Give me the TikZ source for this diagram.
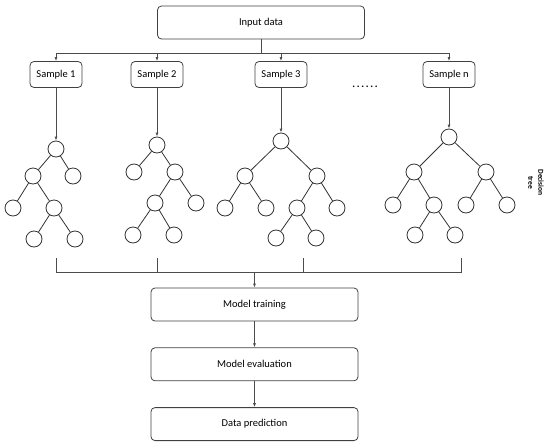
\documentclass[tikz,border=0pt]{standalone}
\usepackage{fontspec}
\setmainfont{Carlito}
\usetikzlibrary{arrows.meta,positioning}
\tikzset{%
	flowbox/.style   = {draw=black!75, rectangle, rounded corners=4pt, line width=0.8pt, minimum width=207pt, minimum height=33pt, text centered, font=\fontsize{10.5}{12}\selectfont},
	samplebox/.style = {draw=black!75, rectangle, rounded corners=4pt, line width=0.8pt, minimum width=52pt, minimum height=26pt, inner sep=1pt, text centered, font=\fontsize{10.5}{12}\selectfont},
	leaf/.style      = {draw=black!80, circle, minimum size=16pt, inner sep=0pt, line width=0.8pt},
	branch/.style    = {draw=black!80, line width=0.8pt},
	link/.style      = {draw=black!70, line width=0.8pt},
	arrow/.style     = {link, -{Latex[length=4pt,width=3pt]}},
}

\begin{document}
\begin{tikzpicture}[x=1pt,y=-1pt]
	\useasboundingbox (0,0) rectangle (550,448);
	
	% boxes
	\node[flowbox] (input) at (261,22.5) {Input data};
	\node[samplebox] (s1) at (56,74.5) {Sample 1};
	\node[samplebox] (s2) at (157,74.5) {Sample 2};
	\node[samplebox] (s3) at (281,74.5) {Sample 3};
	\node[samplebox] (s4) at (449,74.5) {Sample n};
	\node[font=\bfseries\fontsize{10.5}{12}\selectfont\addfontfeature{LetterSpace=16}] (dots) at (365,87) {......};
	\node[flowbox] (train) at (254.5,304.5) {Model training};
	\node[flowbox, below=26pt of train] (eval) {Model evaluation};
	\node[flowbox, below=26pt of eval] (pred) {Data prediction};
	\node[rotate=-90, align=center, font=\bfseries\fontsize{7.5}{10}\selectfont] (label) at (536,182.5) {Decision\\tree};
	
	% trees
	\foreach \n/\x/\y in {a/56/149, b/33/176, c/73/176, d/13/208, e/54/208, f/34/239, g/75/239} \node[leaf] (t1\n) at (\x,\y) {};
	\foreach \p/\c in {a/b, a/c, b/d, b/e, e/f, e/g} \draw[branch] (t1\p) -- (t1\c);
	
	\foreach \n/\x/\y in {a/157/145, b/134/172, c/175/172, d/155/203, e/196/203, f/133/235, g/174/235} \node[leaf] (t2\n) at (\x,\y) {};
	\foreach \p/\c in {a/b, a/c, c/d, c/e, d/f, d/g} \draw[branch] (t2\p) -- (t2\c);
	
	\foreach \n/\x/\y in {a/281/141, b/245/176, c/317/176, d/225/208, e/266/208, f/297/208, g/337/208, h/276/238, i/316/238} \node[leaf] (t3\n) at (\x,\y) {};
	\foreach \p/\c in {a/b, a/c, b/d, b/e, c/f, c/g, f/h, f/i} \draw[branch] (t3\p) -- (t3\c);
	
	\foreach \n/\x/\y in {a/449/137, b/414/172, c/486/172, d/393/205, e/434/205, f/466/205, g/507/205, h/415/235, i/455/235} \node[leaf] (t4\n) at (\x,\y) {};
	\foreach \p/\c in {a/b, a/c, b/d, b/e, c/f, c/g, e/h, e/i} \draw[branch] (t4\p) -- (t4\c);
	
	% connectors
	\coordinate (split) at (261,53);
	\draw[link] (input) -- (split);
	\foreach \s in {s1,s2,s3,s4} \draw[arrow] (split) -| (\s);
	\foreach \s [count=\i] in {s1,s2,s3,s4} \draw[arrow] (\s) -- (t\i a);
	
	\coordinate (j1) at (56,258);
	\coordinate (j2) at (157,258);
	\coordinate (j3) at (303,258);
	\coordinate (j4) at (461,258);
	\coordinate (merge) at (254.5,272.5);
	\draw[link] (j1) |- (merge) -| (j4);
	\draw[link] (j2) -- (j2 |- merge);
	\draw[link] (j3) -- (j3 |- merge);
	\draw[arrow] (merge) -- (train);
	\draw[arrow] (train) -- (eval);
	\draw[arrow] (eval) -- (pred);
\end{tikzpicture}
\end{document}
